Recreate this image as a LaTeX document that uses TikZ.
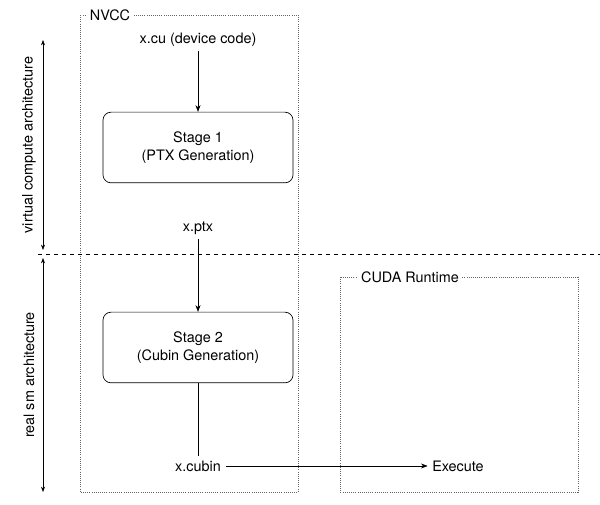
\documentclass[tikz,border=0pt]{standalone}
\usepackage{fontspec}
\setmainfont{TeX Gyre Heros}
\usetikzlibrary{arrows.meta}
\begin{document}
\begin{tikzpicture}[x=0.75pt,y=-0.75pt,font=\fontsize{10.8}{13}\selectfont,
  dbox/.style={draw=gray!80!black,densely dotted,line width=0.6pt},
  stage/.style={draw,rounded corners=6pt,minimum width=142.5pt,minimum height=53pt,align=center,line width=0.5pt},
  lbl/.style={fill=white,inner sep=2pt},
  arr/.style={-{Stealth[length=5pt]},line width=0.4pt}]
\useasboundingbox (0,0) rectangle (600,505);
\draw[dbox] (80,15) rectangle (298,492);
\node[lbl] (nvcc) at (110,15) {NVCC};
\draw[dbox] (340,277) rectangle (578,492);
\node[lbl] (rt) at (410,277) {CUDA Runtime};
\node (cu) at (198,40) {x.cu (device code)};
\node[stage] (s1) at (198,147.5) {Stage 1\\(PTX Generation)};
\node (ptx) at (198,228) {x.ptx};
\node[stage] (s2) at (198,347.5) {Stage 2\\(Cubin Generation)};
\node (cubin) at (198,466) {x.cubin};
\node (exe) at (458,466) {Execute};
\draw[arr] (cu) -- (s1);
\draw[arr] (ptx) -- (s2);
\draw[line width=0.4pt] (s2) -- (cubin);
\draw[arr] (cubin) -- (exe);
\draw[dashed,line width=0.6pt] (38,254) -- (600,254);
\coordinate (v1) at (43,40); \coordinate (v2) at (43,250);
\coordinate (r1) at (43,258); \coordinate (r2) at (43,492);
\draw[{Stealth[length=4pt]}-{Stealth[length=4pt]},line width=0.4pt] (v1) -- (v2);
\draw[{Stealth[length=4pt]}-{Stealth[length=4pt]},line width=0.4pt] (r1) -- (r2);
\node[rotate=90] (vl) at (29,145) {virtual compute architecture};
\node[rotate=90] (rl) at (29,375) {real sm architecture};
\end{tikzpicture}
\end{document}
